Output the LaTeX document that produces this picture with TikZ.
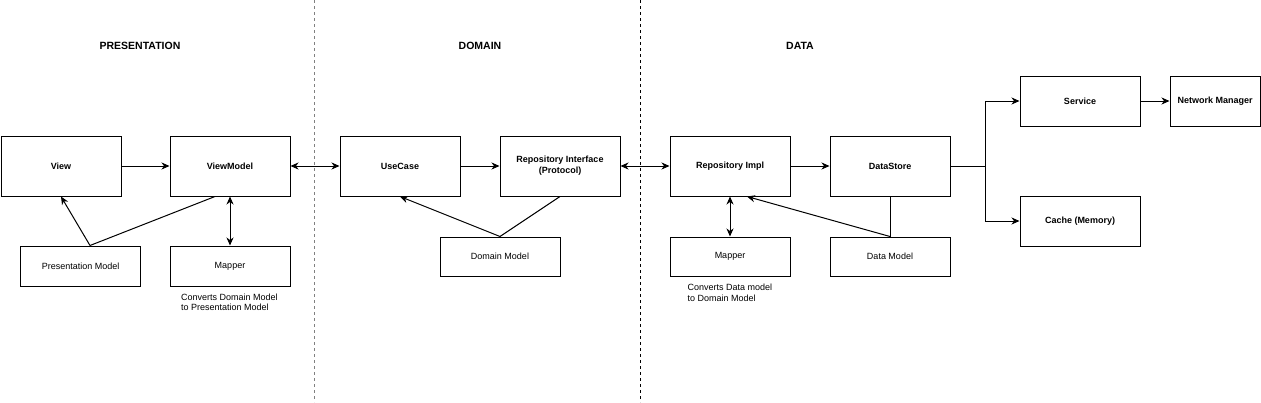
\documentclass[tikz,border=0pt]{standalone}
\usepackage{fontspec}
\setmainfont{Liberation Sans}
\usetikzlibrary{arrows.meta,calc}
\tikzset{
  box/.style={draw=black, line width=1pt, fill=white, minimum width=120pt, minimum height=60pt, inner sep=1pt, align=center, font=\fontsize{9}{11}\selectfont\bfseries},
  sbox/.style={draw=black, line width=1pt, fill=white, minimum width=120pt, minimum height=40pt, inner sep=1pt, align=center, font=\fontsize{9}{11}\selectfont},
  head/.style={font=\fontsize{10.5}{12}\selectfont\bfseries, inner sep=0pt},
  note/.style={font=\fontsize{9}{10.5}\selectfont, align=left, inner sep=0pt, anchor=north west},
  conn/.style={draw=black, line width=1pt},
  arr/.style={conn, -{Stealth[length=8pt,width=7pt,inset=2.5pt]}},
  darr/.style={conn, {Stealth[length=8pt,width=7pt,inset=2.5pt]}-{Stealth[length=8pt,width=7pt,inset=2.5pt]}},
  sep/.style={line width=1pt, dash pattern=on 3pt off 3pt}
}
\begin{document}
\begin{tikzpicture}[x=1pt,y=-1pt]
\useasboundingbox (0,0) rectangle (1261,402);
% separators
\draw[sep, color=gray] (314,0) -- (314,402);
\draw[sep, color=black] (640,0) -- (640,402);
% headings
\node[head] (hp) at (140,46) {PRESENTATION};
\node[head] (hd) at (480,46) {DOMAIN};
\node[head] (hda) at (800,46) {DATA};
% boxes
\node[box] (view) at (61,166) {View};
\node[box] (vm) at (230,166) {ViewModel};
\node[sbox] (pm) at (80.7,266) {Presentation Model};
\node[sbox] (map1) at (230,266) {Mapper};
\node[box] (uc) at (400,166) {UseCase};
\node[box] (ri) at (560,166) {Repository Interface\\(Protocol)};
\node[sbox, minimum height=39pt] (dm) at (500,256.5) {Domain Model};
\node[box] (rimpl) at (730,166) {Repository Impl};
\node[box] (ds) at (890,166) {DataStore};
\node[sbox, minimum height=39pt] (map2) at (730,256.5) {Mapper};
\node[sbox, minimum height=39pt] (dmod) at (890,256.5) {Data Model};
\node[box, minimum height=50pt] (svc) at (1080,101) {Service};
\node[box, minimum height=50pt, minimum width=90pt] (net) at (1215,101) {Network Manager};
\node[box, minimum height=50pt] (cache) at (1080,221) {Cache (Memory)};
% notes
\node[note] (n1) at (181,293.5) {Converts Domain Model\\to Presentation Model};
\node[note] (n2) at (687.5,284) {Converts Data model\\to Domain Model};
% connectors
\draw[arr] (view.east) -- (vm.west);
\draw[darr] (vm.east) -- (uc.west);
\draw[arr] (uc.east) -- (ri.west);
\draw[darr] (ri.east) -- (rimpl.west);
\draw[arr] (rimpl.east) -- (ds.west);
\coordinate (split) at (985,166);
\draw[conn] (ds.east) -- (split);
\draw[arr] (split) |- (svc.west);
\draw[arr] (split) |- (cache.west);
\draw[arr] (svc.east) -- (net.west);
\draw[arr] ([xshift=9.3pt]pm.north) -- (view.south);
\draw[conn] ([xshift=9.3pt]pm.north) -- ([xshift=-15pt]vm.south);
\draw[darr] (vm.south) -- (map1.north);
\draw[arr] (dm.north) -- (uc.south);
\draw[conn] (dm.north) -- (ri.south);
\draw[darr] (rimpl.south) -- (map2.north);
\draw[conn] (dmod.north) -- (ds.south);
\draw[arr] (dmod.north) -- ([xshift=17pt]rimpl.south);
\end{tikzpicture}
\end{document}
